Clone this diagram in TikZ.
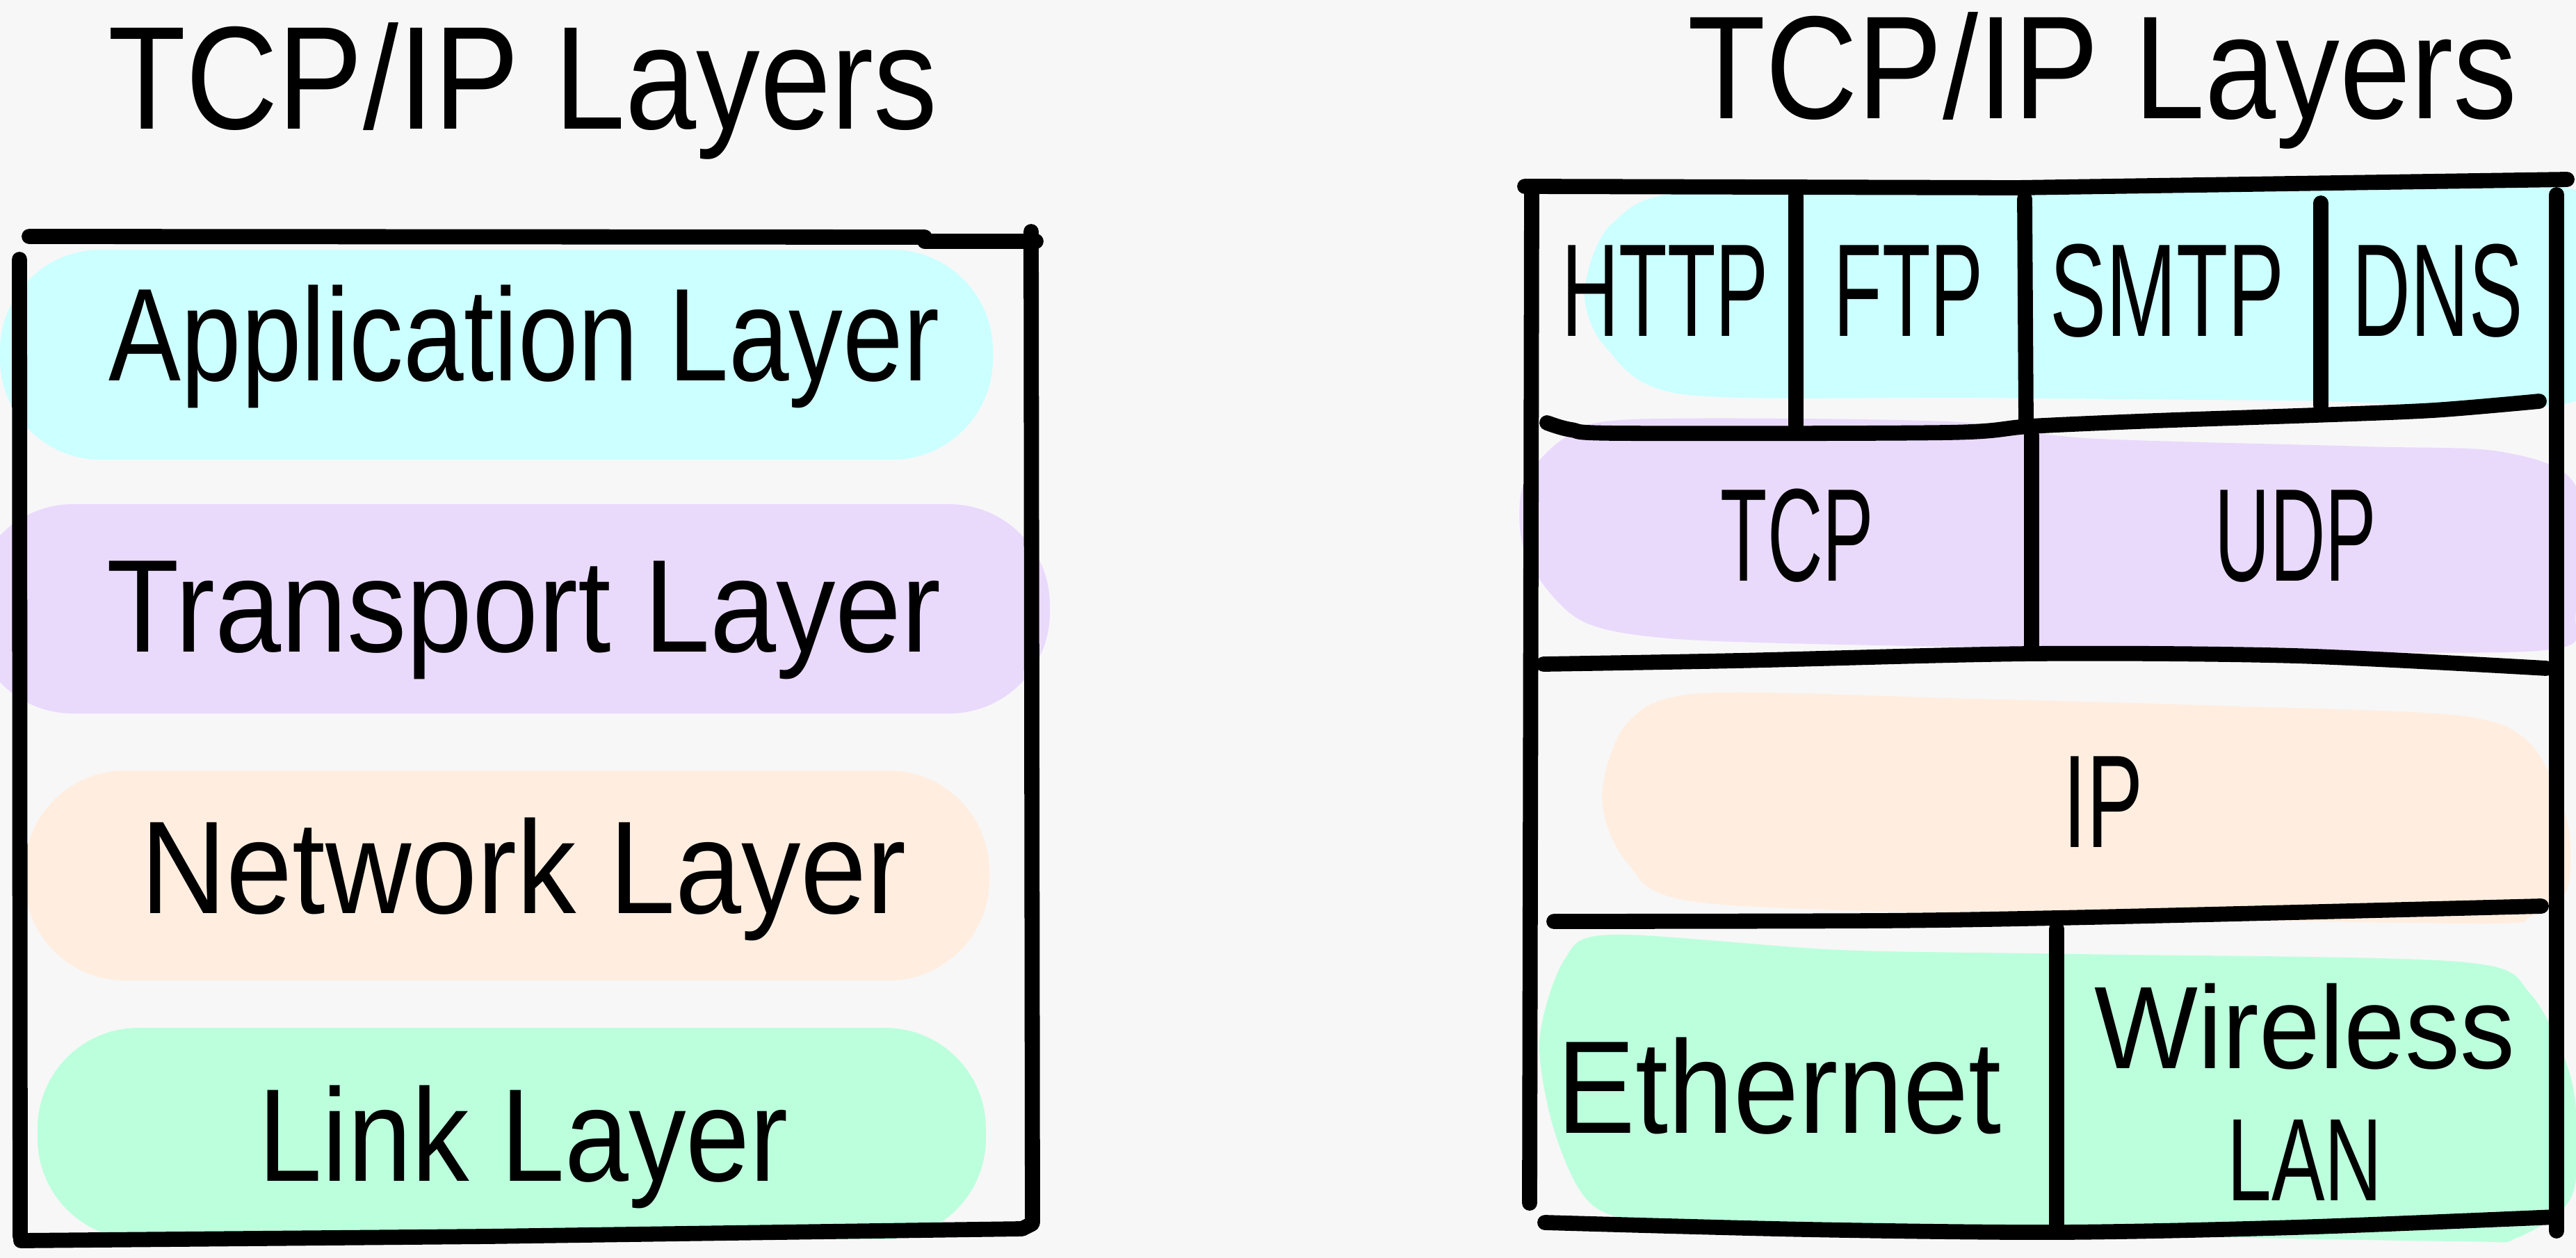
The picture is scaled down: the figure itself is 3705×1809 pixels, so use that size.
\documentclass[tikz,border=0pt]{standalone}
\usepackage{fontspec}
\setmainfont{Liberation Sans}
\usepackage{graphicx}
\newcommand{\myhs}[2]{\scalebox{#1}[1]{#2}}
\definecolor{bgc}{HTML}{F7F7F7}
\definecolor{appc}{HTML}{CCFFFF}
\definecolor{trc}{HTML}{E9DAFC}
\definecolor{netc}{HTML}{FFEEE0}
\definecolor{linkc}{HTML}{BCFFDD}
\begin{document}
\begin{tikzpicture}[x=0.01cm,y=-0.01cm,
  ln/.style={line width=6.2pt, line cap=round, line join=round, black},
  pill/.style={rounded corners=1.45cm},
  body/.style={inner sep=0pt, anchor=base, font=\fontsize{54}{60}\selectfont},
  ttl/.style={inner sep=0pt, anchor=base, font=\fontsize{60}{66}\selectfont}]
\useasboundingbox (0,0) rectangle (3705,1809);
\fill[bgc] (0,0) rectangle (3705,1809);

% ---------- left diagram ----------
\fill[appc, pill] (0,359) rectangle (1428,661);
\fill[trc, pill] (-40,725) rectangle (1510,1026);
\fill[netc, pill] (35,1108) rectangle (1423,1410);
\fill[linkc, pill] (54,1478) rectangle (1418,1782);

\draw[ln] (42,340) -- (1330,341);
\draw[ln] (1330,347) -- (1490,347);
\draw[ln] (1483,333) -- (1485,1758);
\draw[ln] (28,373) -- (29,1778);
\draw[ln] (30,1784) -- (700,1778) -- (1470,1767) -- (1484,1760);

\node[ttl] (ltitle) at (752,185) {\myhs{0.87}{TCP/IP Layers}};
\node[body] (lapp) at (754,547) {\myhs{0.82}{Application Layer}};
\node[body] (ltr) at (754,937) {\myhs{0.90}{Transport Layer}};
\node[body] (lnet) at (753,1313) {\myhs{0.90}{Network Layer}};
\node[body] (llink) at (753,1698) {\myhs{0.87}{Link Layer}};

% ---------- right diagram ----------
\fill[appc] plot[smooth cycle, tension=0.5] coordinates {
  (2460,272) (3100,270) (3700,272) (3705,450) (3700,578) (3300,576)
  (2844,572) (2420,567) (2310,500) (2279,420) (2320,320)};
\fill[trc] plot[smooth cycle, tension=0.5] coordinates {
  (2348,603) (2800,606) (3000,630) (3400,642) (3600,650) (3705,700)
  (3705,880) (3660,935) (3200,935) (2700,928) (2400,918) (2270,890)
  (2195,800) (2190,700) (2250,630)};
\fill[netc] plot[smooth cycle, tension=0.5] coordinates {
  (2447,997) (2844,1005) (3200,1015) (3538,1029) (3640,1070) (3692,1180)
  (3692,1279) (3640,1318) (3568,1328) (3000,1318) (2447,1298) (2340,1240)
  (2304,1147) (2340,1040)};
\fill[linkc] plot[smooth cycle, tension=0.5] coordinates {
  (2319,1344) (2646,1366) (2993,1372) (3538,1383) (3640,1430) (3700,1560)
  (3700,1717) (3620,1780) (3538,1785) (3000,1775) (2450,1760) (2299,1739)
  (2240,1640) (2214,1500) (2250,1380)};

\draw[ln] (2193,268) -- (2900,270) -- (3692,258);
\draw[ln] (2203,272) -- (2200,1730);
\draw[ln] (3677,280) -- (3677,1770);
\draw[ln] (2583,282) -- (2583,611);
\draw[ln] (2912,286) -- (2914,608);
\draw[ln] (3338,292) -- (3338,583);
\draw[ln] (2922,626) -- (2922,940);
\draw[ln] (2958,1336) -- (2958,1761);
\draw[ln] plot[smooth] coordinates {(2225,608) (2260,618) (2330,623) (2800,622)
  (2920,613) (3100,605) (3330,597) (3500,590) (3652,577)};
\draw[ln] plot[smooth] coordinates {(2220,955) (2500,950) (2922,940) (3300,943) (3662,961)};
\draw[ln] plot[smooth] coordinates {(2235,1325) (2700,1324) (2958,1320) (3300,1312) (3655,1303)};
\draw[ln] plot[smooth] coordinates {(2222,1758) (2600,1768) (2958,1772) (3300,1765) (3675,1750)};

\node[ttl] (rtitle) at (3024,170) {\myhs{0.87}{TCP/IP Layers}};
\node[body] (http) at (2395,483) {\myhs{0.6}{HTTP}};
\node[body] (ftp) at (2745,483) {\myhs{0.6}{FTP}};
\node[body] (smtp) at (3117,483) {\myhs{0.64}{SMTP}};
\node[body] (dns) at (3506,483) {\myhs{0.61}{DNS}};
\node[body] (tcp) at (2585,835) {\myhs{0.58}{TCP}};
\node[body] (udp) at (3302,835) {\myhs{0.58}{UDP}};
\node[body] (ip) at (3025,1218) {\myhs{0.64}{IP}};
\node[body] (eth) at (2559,1629) {\myhs{0.89}{Ethernet}};
\node[inner sep=0pt, anchor=center, align=center, font=\fontsize{48}{54}\selectfont]
  (wlan) at (3315,1570) {\myhs{0.935}{Wireless}\\\myhs{0.68}{LAN}};
\end{tikzpicture}
\end{document}
